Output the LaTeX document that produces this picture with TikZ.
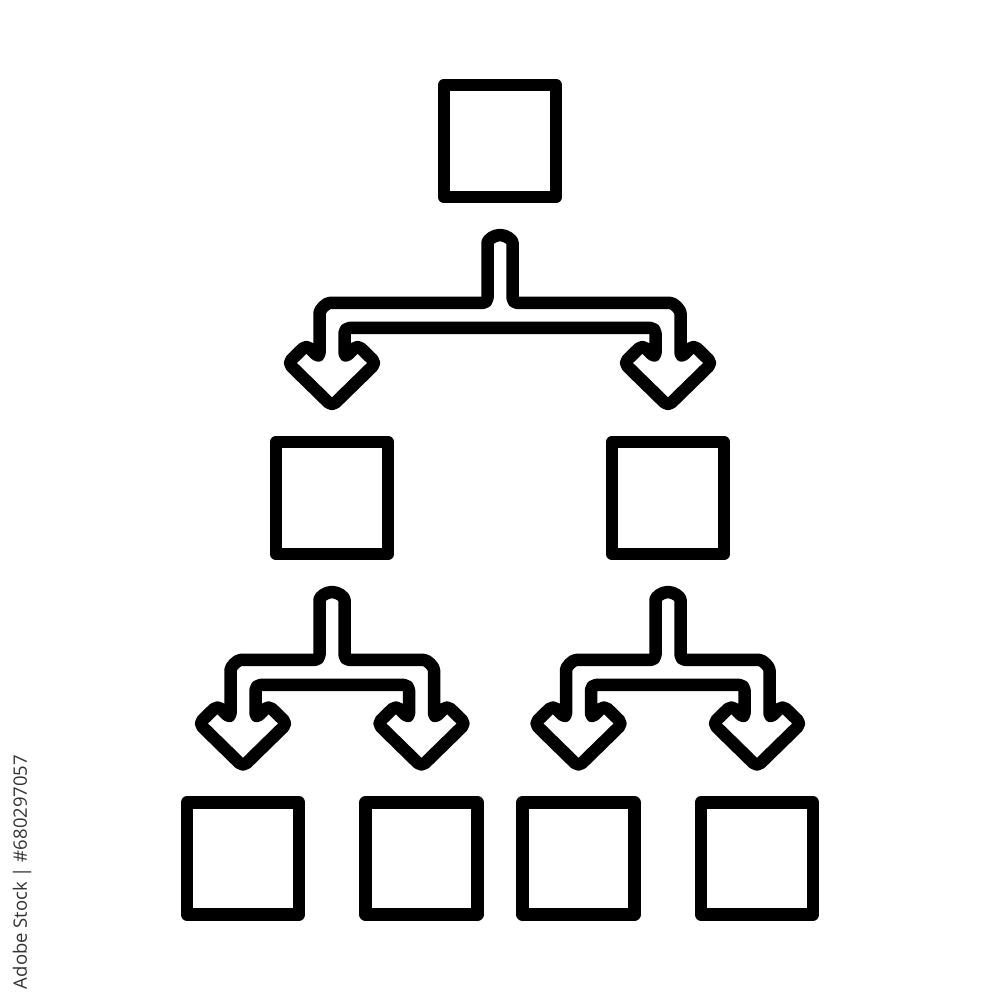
\documentclass[tikz,border=0pt]{standalone}
\usepackage{fontspec}
\newfontfamily\stockfont{Open Sans}
\usetikzlibrary{calc}

\tikzset{
	box/.style={draw, rectangle, line width=12.5pt, line join=round, minimum size=112pt, inner sep=0pt, outer sep=0pt},
	tube/.style={line width=12.5pt, line join=round, rounded corners=5pt},
}

% outlined split arrow: from node #1 down to nodes #2 and #3
\newcommand{\splitarrow}[3]{%
	\coordinate (top) at ($(#1.south)+(0,-38)$);
	\coordinate (upper) at ($(top)+(0,-68)$);
	\coordinate (lower) at ($(upper)+(0,-25)$);
	\coordinate (tipL) at ($(#2.north)+(0,36)$);
	\coordinate (tipR) at ($(#3.north)+(0,36)$);
	\draw[tube] ($(top)+(-12.5,-12.5)$) arc[start angle=180, end angle=0, radius=12.5pt]
		-- ($(upper)+(12.5,0)$)
		-- ($(tipR |- upper)+(-2.5,0)$) arc[start angle=90, end angle=0, radius=15pt]
		-- ($(tipR)+(12.5,48)$) -- ($(tipR)+(25.5,61)$) -- ($(tipR)+(44,43)$) -- (tipR)
		-- ($(tipR)+(-44,43)$) -- ($(tipR)+(-25.5,61)$) -- ($(tipR)+(-12.5,48)$)
		-- ($(tipR |- lower)+(-12.5,0)$) -- ($(tipL |- lower)+(12.5,0)$)
		-- ($(tipL)+(12.5,48)$) -- ($(tipL)+(25.5,61)$) -- ($(tipL)+(44,43)$) -- (tipL)
		-- ($(tipL)+(-44,43)$) -- ($(tipL)+(-25.5,61)$) -- ($(tipL)+(-12.5,48)$)
		-- ($(tipL |- upper)+(-12.5,-15)$) arc[start angle=180, end angle=90, radius=15pt]
		-- ($(upper)+(-12.5,0)$) -- cycle;
}

\begin{document}
\begin{tikzpicture}[x=1pt, y=1pt]
	\useasboundingbox (0,0) rectangle (1000,1000);

	\node[box] (head) at (500, 859) {};
	\node[box] (midL) at (332, 502) {};
	\node[box] (midR) at (668, 502) {};
	\node[box] (leaf1) at (243, 141.5) {};
	\node[box] (leaf2) at (421.5, 141.5) {};
	\node[box] (leaf3) at (578.5, 141.5) {};
	\node[box] (leaf4) at (757, 141.5) {};

	\splitarrow{head}{midL}{midR}
	\splitarrow{midL}{leaf1}{leaf2}
	\splitarrow{midR}{leaf3}{leaf4}

	\node[rotate=90, text=black!80, font=\stockfont\fontsize{18.5}{18.5}\selectfont] (stock) at (22, 128) {Adobe Stock | \#680297057};
\end{tikzpicture}
\end{document}
